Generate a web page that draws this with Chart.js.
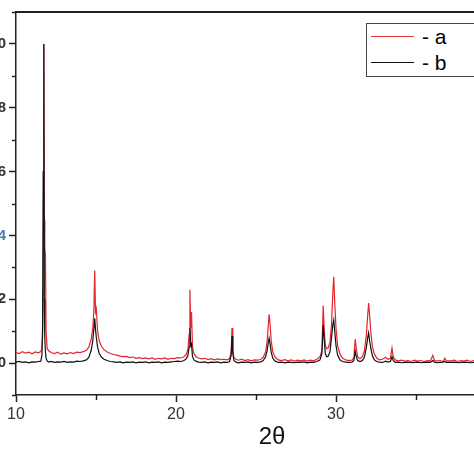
<!DOCTYPE html>
<html>
<head>
<meta charset="utf-8">
<script src="https://cdn.jsdelivr.net/npm/chart.js@4.4.1/dist/chart.umd.min.js"></script>
<style>
  body { margin: 0; overflow: hidden; background: #fff; width: 474px; height: 474px; }
  #wrap { position: absolute; left: -40px; top: 0; width: 580px; height: 474px; }
  #legend { position: absolute; left: 366px; top: 23px; width: 140px; height: 52px;
            border: 1px solid #444; background: #fff;
            font-family: 'Liberation Sans', Arial, sans-serif; font-size: 21px; color: #000; }
  .row { position: absolute; left: 0; height: 26px; width: 100%; }
  .ln { position: absolute; left: 4px; width: 43px; top: 12px; height: 0; }
  .tx { position: absolute; left: 55px; top: 0; line-height: 26px; }
</style>
</head>
<body>
<div id="wrap"><canvas id="chart"></canvas></div>
<div id="legend">
  <div class="row" style="top:0"><div class="ln" style="border-top:1.5px solid #e33a3a"></div><span class="tx">- a</span></div>
  <div class="row" style="top:26px"><div class="ln" style="border-top:1.5px solid #111"></div><span class="tx">- b</span></div>
</div>
<script>
// 2θ positions (shared by both patterns)
const twoTheta = [
  10.0, 10.2, 10.4, 10.6, 10.8, 11.0, 11.2, 11.4, 11.55, 11.62, 11.66, 11.70, 11.74, 11.77, 11.80, 11.84, 11.88, 11.95,
  12.05, 12.2, 12.4, 12.6, 12.8, 13.0, 13.2, 13.4, 13.6, 13.8, 14.0, 14.2, 14.4, 14.55, 14.7, 14.8, 14.87, 14.92,
  14.97, 15.02, 15.1, 15.2, 15.35, 15.5, 15.7, 15.9, 16.1, 16.3, 16.5, 16.7, 16.9, 17.1, 17.3, 17.5, 17.7, 17.9,
  18.1, 18.3, 18.5, 18.7, 18.9, 19.1, 19.3, 19.5, 19.7, 19.9, 20.1, 20.3, 20.5, 20.65, 20.75, 20.82, 20.87, 20.92,
  20.97, 21.03, 21.12, 21.25, 21.4, 21.6, 21.8, 22.0, 22.2, 22.4, 22.6, 22.8, 23.0, 23.2, 23.35, 23.45, 23.5, 23.55,
  23.62, 23.75, 23.9, 24.1, 24.3, 24.5, 24.7, 24.9, 25.1, 25.3, 25.45, 25.6, 25.7, 25.77, 25.82, 25.88, 25.95, 26.05,
  26.2, 26.4, 26.6, 26.8, 27.0, 27.2, 27.4, 27.6, 27.8, 28.0, 28.2, 28.4, 28.6, 28.8, 29.0, 29.12, 29.2, 29.27,
  29.33, 29.42, 29.52, 29.62, 29.72, 29.8, 29.86, 29.92, 30.0, 30.1, 30.25, 30.4, 30.6, 30.8, 31.0, 31.12, 31.2, 31.27,
  31.35, 31.5, 31.65, 31.78, 31.9, 31.98, 32.04, 32.1, 32.18, 32.28, 32.4, 32.55, 32.7, 32.9, 33.1, 33.25, 33.4, 33.5,
  33.58, 33.7, 33.9, 34.1, 34.3, 34.5, 34.7, 34.9, 35.1, 35.3, 35.5, 35.7, 35.9, 36.05, 36.15, 36.3, 36.5, 36.7,
  36.8, 36.9, 37.2, 37.4, 37.6, 37.8, 38.0, 38.2, 38.4, 38.6, 38.8, 39.0
];

// pattern a (red)
const seriesA = [
  0.33, 0.30, 0.36, 0.31, 0.34, 0.29, 0.35, 0.32, 0.36, 0.45, 0.80, 2.20, 10.0, 4.50, 3.60, 3.40, 1.00, 0.45,
  0.38, 0.33, 0.30, 0.34, 0.28, 0.32, 0.29, 0.33, 0.30, 0.34, 0.33, 0.36, 0.40, 0.50, 0.75, 1.10, 1.70, 2.90,
  1.60, 1.70, 1.00, 0.70, 0.52, 0.42, 0.35, 0.30, 0.27, 0.25, 0.22, 0.20, 0.21, 0.17, 0.19, 0.15, 0.17, 0.14,
  0.16, 0.13, 0.16, 0.12, 0.15, 0.13, 0.16, 0.12, 0.15, 0.14, 0.17, 0.16, 0.20, 0.28, 0.45, 0.90, 2.30, 1.10,
  1.60, 0.50, 0.30, 0.20, 0.16, 0.13, 0.15, 0.11, 0.14, 0.10, 0.13, 0.11, 0.12, 0.10, 0.14, 0.35, 1.10, 0.40,
  0.18, 0.12, 0.09, 0.12, 0.08, 0.11, 0.07, 0.10, 0.09, 0.12, 0.18, 0.35, 0.70, 1.20, 1.53, 1.20, 0.70, 0.35,
  0.18, 0.10, 0.08, 0.11, 0.07, 0.10, 0.06, 0.09, 0.07, 0.10, 0.06, 0.09, 0.07, 0.12, 0.20, 0.40, 1.80, 1.00,
  0.55, 0.45, 0.48, 0.65, 1.20, 2.20, 2.70, 1.90, 1.10, 0.55, 0.28, 0.16, 0.10, 0.08, 0.09, 0.18, 0.75, 0.45,
  0.20, 0.14, 0.20, 0.40, 0.90, 1.50, 1.88, 1.50, 0.95, 0.50, 0.28, 0.16, 0.10, 0.12, 0.18, 0.12, 0.15, 0.47,
  0.20, 0.10, 0.07, 0.09, 0.06, 0.08, 0.05, 0.09, 0.06, 0.08, 0.05, 0.08, 0.07, 0.24, 0.09, 0.06, 0.08, 0.05,
  0.15, 0.07, 0.07, 0.09, 0.05, 0.08, 0.06, 0.09, 0.05, 0.08, 0.06, 0.07
];

// pattern b (black)
const seriesB = [
  0.03, 0.05, 0.02, 0.04, 0.01, 0.04, 0.03, 0.05, 0.06, 0.25, 1.10, 6.00, 10.0, 2.00, 0.80, 0.35, 0.15, 0.06,
  0.03, 0.05, 0.02, 0.04, 0.03, 0.05, 0.02, 0.04, 0.03, 0.06, 0.05, 0.07, 0.10, 0.18, 0.40, 0.70, 1.10, 1.40,
  1.05, 0.80, 0.50, 0.30, 0.18, 0.12, 0.08, 0.05, 0.04, 0.02, 0.04, 0.01, 0.03, 0.02, 0.04, 0.01, 0.03, 0.02,
  0.04, 0.01, 0.03, 0.02, 0.04, 0.01, 0.03, 0.02, 0.04, 0.05, 0.06, 0.05, 0.08, 0.14, 0.25, 0.50, 1.10, 0.55,
  0.60, 0.20, 0.10, 0.06, 0.03, 0.02, 0.04, 0.01, 0.03, 0.02, 0.04, 0.01, 0.03, 0.02, 0.05, 0.25, 0.85, 0.30,
  0.08, 0.03, 0.01, 0.03, 0.02, 0.04, 0.01, 0.03, 0.02, 0.04, 0.08, 0.20, 0.40, 0.65, 0.78, 0.60, 0.35, 0.15,
  0.06, 0.02, 0.03, 0.01, 0.03, 0.02, 0.01, 0.03, 0.02, 0.04, 0.01, 0.03, 0.02, 0.05, 0.10, 0.30, 1.20, 0.70,
  0.30, 0.20, 0.22, 0.35, 0.80, 1.20, 1.35, 1.00, 0.55, 0.25, 0.10, 0.05, 0.03, 0.02, 0.03, 0.08, 0.37, 0.20,
  0.08, 0.05, 0.08, 0.20, 0.50, 0.80, 0.95, 0.70, 0.45, 0.22, 0.10, 0.05, 0.03, 0.02, 0.06, 0.03, 0.05, 0.20,
  0.08, 0.02, 0.03, 0.01, 0.02, 0.03, 0.01, 0.02, 0.03, 0.01, 0.02, 0.03, 0.02, 0.08, 0.03, 0.01, 0.02, 0.03,
  0.05, 0.02, 0.02, 0.03, 0.01, 0.02, 0.03, 0.02, 0.01, 0.02, 0.03, 0.02
];

const xTickLabels = [10, 20, 30, 40];
const yTickLabels = [0, 2, 4, 6, 8, 10];

const minorTicks = {
    id: 'minorTicks',
    afterDraw(chart) {
        const ctx = chart.ctx;
        const area = chart.chartArea;
        const xs = chart.scales.x;
        const ys = chart.scales.y;
        ctx.save();
        // top frame line
        ctx.strokeStyle = '#222';
        ctx.lineWidth = 2;
        ctx.beginPath();
        ctx.moveTo(area.left, area.top);
        ctx.lineTo(area.right, area.top);
        ctx.stroke();
        // short minor ticks
        ctx.lineWidth = 1.5;
        [-1, 1, 3, 5, 7, 9, 11].forEach(v => {
            const py = Math.round(ys.getPixelForValue(v)) + 0.5;
            ctx.beginPath();
            ctx.moveTo(area.left - 4, py);
            ctx.lineTo(area.left, py);
            ctx.stroke();
        });
        [15, 25, 35].forEach(v => {
            const px = Math.round(xs.getPixelForValue(v)) + 0.5;
            ctx.beginPath();
            ctx.moveTo(px, area.bottom);
            ctx.lineTo(px, area.bottom + 5);
            ctx.stroke();
        });
        ctx.restore();
    }
};

const chartCtx = document.getElementById('chart').getContext('2d');
const chart = new Chart(chartCtx, {
    type: 'line',
    data: {
        datasets: [
            {
                label: '- b',
                data: twoTheta.map((x, i) => ({ x: x, y: seriesB[i] })),
                borderColor: '#111',
                borderWidth: 1.2,
                pointRadius: 0,
                tension: 0,
                fill: false,
                order: 0
            },
            {
                label: '- a',
                data: twoTheta.map((x, i) => ({ x: x, y: seriesA[i] })),
                borderColor: '#e3262c',
                borderWidth: 1.2,
                pointRadius: 0,
                tension: 0,
                fill: false,
                order: 1
            }
        ]
    },
    options: {
        responsive: true,
        maintainAspectRatio: false,
        animation: false,
        layout: { padding: { top: 9, right: 12, left: 0, bottom: 0 } },
        plugins: { legend: { display: false }, tooltip: { enabled: false } },
        scales: {
            x: {
                type: 'linear',
                min: 10,
                max: 42,
                afterFit: s => { s.height = 79; },
                border: { color: '#222', width: 1.5 },
                grid: { drawOnChartArea: false, drawTicks: true, tickLength: 7, tickColor: ctx => xTickLabels.includes(ctx.tick && ctx.tick.value) ? '#222' : 'rgba(0,0,0,0)', tickWidth: 1.5 },
                ticks: {
                    stepSize: 5,
                    autoSkip: false,
                    maxRotation: 0,
                    padding: 3,
                    color: '#333',
                    font: { family: "'Liberation Sans', Arial, sans-serif", size: 16 },
                    callback: v => xTickLabels.includes(v) ? String(v) : ''
                },
                title: {
                    display: true,
                    text: '2θ',
                    color: '#111',
                    font: { family: "'Liberation Sans', Arial, sans-serif", size: 24 },
                    padding: { top: 0, bottom: 22 }
                }
            },
            y: {
                type: 'linear',
                min: -1,
                max: 11,
                afterFit: s => { s.width = 56; },
                border: { color: '#222', width: 1.5 },
                grid: { drawOnChartArea: false, drawTicks: true, tickLength: 7, tickColor: ctx => yTickLabels.includes(ctx.tick && ctx.tick.value) ? '#222' : 'rgba(0,0,0,0)', tickWidth: 1.5 },
                ticks: {
                    stepSize: 1,
                    autoSkip: false,
                    padding: 3,
                    color: ctx => ctx.tick && ctx.tick.value === 4 ? '#4f79b5' : '#333',
                    font: { family: "'Liberation Sans', Arial, sans-serif", size: 15, weight: 'bold' },
                    callback: v => yTickLabels.includes(v) ? String(v) : ''
                }
            }
        }
    },
    plugins: [minorTicks]
});
</script>
</body>
</html>
